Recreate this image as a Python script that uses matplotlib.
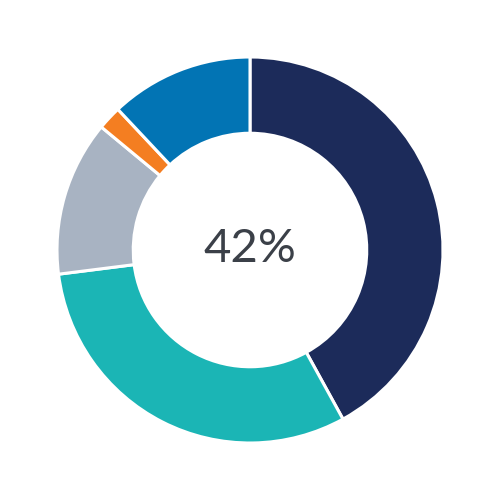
import matplotlib
matplotlib.use("Agg")
from matplotlib import pyplot as plt

# segment shares, clockwise from 12 o'clock
values = [42, 31, 13, 2, 12]
colors = ["#1c2b5a", "#1bb5b5", "#a8b3c2", "#f47e21", "#0274b4"]
center_label = "42%"

fig = plt.figure(figsize=(5, 5), dpi=100)
ax = fig.add_axes([0, 0, 1, 1])
ax.pie(values, colors=colors, startangle=90, counterclock=False,
       radius=1.0,
       wedgeprops=dict(width=0.395, edgecolor="white", linewidth=2.2))
lim = 250 / 193
ax.set_xlim(-lim, lim)
ax.set_ylim(-lim, lim)
ax.set_aspect("equal")
ax.axis("off")
ax.text(0, 0.005, center_label, ha="center", va="center", fontsize=34,
        color="#3b4048", family="Lato", fontweight="normal")

plt.savefig("out.png", dpi=100, facecolor="white")
